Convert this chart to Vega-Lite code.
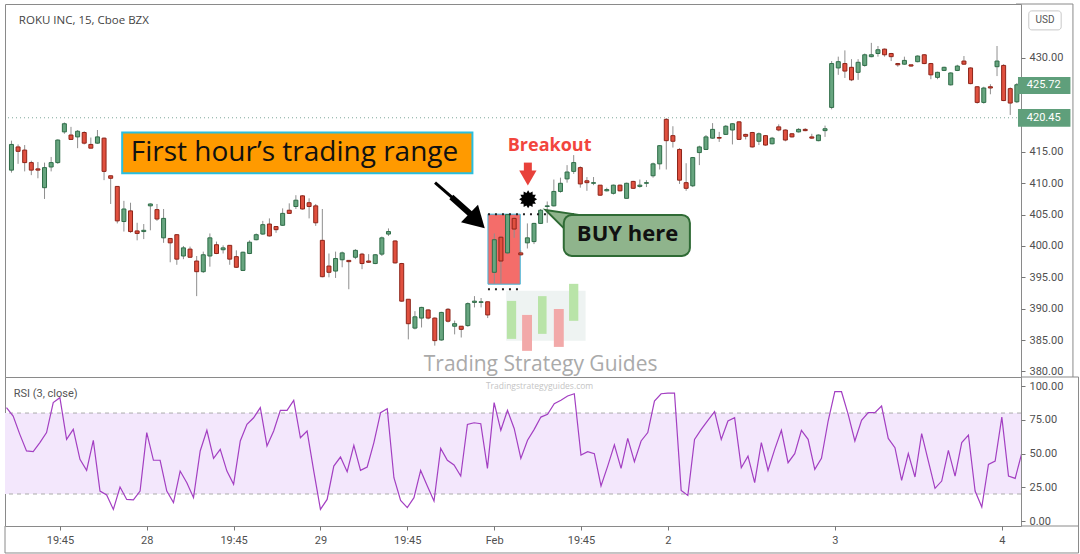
{
"$schema":"https://vega.github.io/schema/vega-lite/v6.json",
"background":"white",
"padding":{"left":4,"top":3,"right":0,"bottom":0},
"bounds":"flush",
"spacing":0,
"resolve":{"scale":{"x":"independent","y":"independent"}},
"config":{"view":{"stroke":"#8a8a8a","strokeWidth":1},"axis":{"grid":false,"labelFont":"Roboto","labelFontSize":11,"labelColor":"#505050","tickColor":"#777777","tickSize":4,"domain":false,"labelOverlap":false},"text":{"font":"Open Sans"}},
"datasets":{"k":[
{"i":0,"o":412.1,"h":416.8,"l":411.7,"c":416.2,"r":84},
{"i":1,"o":415.8,"h":416.2,"l":413.1,"c":415.1,"r":77.8},
{"i":2,"o":415.3,"h":416.1,"l":411.9,"c":413.3,"r":64.2},
{"i":3,"o":413.3,"h":413.6,"l":411.3,"c":412.1,"r":51.9},
{"i":4,"o":412.3,"h":413.4,"l":410.8,"c":412.1,"r":51.4},
{"i":5,"o":409.3,"h":413.3,"l":407.5,"c":412.5,"r":58.1},
{"i":6,"o":412.6,"h":414.2,"l":411.9,"c":413.3,"r":65.5},
{"i":7,"o":413.3,"h":417.0,"l":413.1,"c":416.9,"r":87.7},
{"i":8,"o":418.2,"h":419.7,"l":417.9,"c":419.5,"r":91.4},
{"i":9,"o":417.7,"h":419.0,"l":416.9,"c":417.0,"r":60.5},
{"i":10,"o":417.4,"h":418.5,"l":415.6,"c":418.3,"r":67.9},
{"i":11,"o":418.1,"h":418.3,"l":416.2,"c":416.4,"r":45.7},
{"i":12,"o":416.2,"h":417.3,"l":415.6,"c":415.6,"r":37.5},
{"i":13,"o":416.4,"h":418.5,"l":416.3,"c":417.4,"r":59.8},
{"i":14,"o":417.2,"h":417.3,"l":410.5,"c":411.9,"r":22.2},
{"i":15,"o":411.2,"h":411.2,"l":406.7,"c":410.8,"r":19.3},
{"i":16,"o":409.5,"h":409.5,"l":403.6,"c":404.0,"r":8.6},
{"i":17,"o":403.9,"h":407.2,"l":402.3,"c":405.9,"r":25.2},
{"i":18,"o":405.6,"h":406.9,"l":402.1,"c":402.3,"r":16.0},
{"i":19,"o":402.4,"h":403.7,"l":400.9,"c":402.0,"r":15.6},
{"i":20,"o":402.3,"h":403.5,"l":401.1,"c":402.5,"r":22.2},
{"i":21,"o":406.4,"h":406.8,"l":402.5,"c":406.7,"r":65.5},
{"i":22,"o":405.8,"h":406.7,"l":404.0,"c":404.3,"r":45.0},
{"i":23,"o":401.3,"h":405.9,"l":400.5,"c":404.4,"r":45.0},
{"i":24,"o":401.2,"h":401.2,"l":397.4,"c":400.5,"r":22.2},
{"i":25,"o":401.8,"h":401.9,"l":397.0,"c":397.9,"r":13.6},
{"i":26,"o":398.4,"h":400.0,"l":397.9,"c":399.7,"r":37.0},
{"i":27,"o":399.5,"h":399.9,"l":398.1,"c":398.2,"r":28.4},
{"i":28,"o":397.6,"h":398.4,"l":392.0,"c":395.9,"r":17.3},
{"i":29,"o":395.9,"h":399.1,"l":395.7,"c":398.6,"r":51.9},
{"i":30,"o":398.4,"h":402.0,"l":396.7,"c":401.3,"r":67.2},
{"i":31,"o":400.2,"h":400.7,"l":398.7,"c":398.8,"r":46.4},
{"i":32,"o":399.4,"h":400.1,"l":398.8,"c":399.7,"r":53.1},
{"i":33,"o":400.1,"h":400.1,"l":397.0,"c":397.9,"r":37.0},
{"i":34,"o":398.3,"h":399.3,"l":396.5,"c":396.6,"r":27.2},
{"i":35,"o":396.1,"h":399.1,"l":396.0,"c":399.0,"r":59.3},
{"i":36,"o":398.8,"h":400.9,"l":398.7,"c":400.6,"r":71.6},
{"i":37,"o":401.0,"h":402.0,"l":400.9,"c":401.8,"r":76.5},
{"i":38,"o":401.9,"h":404.0,"l":401.8,"c":403.4,"r":84.0},
{"i":39,"o":403.5,"h":404.4,"l":401.5,"c":401.6,"r":55.6},
{"i":40,"o":403.1,"h":403.1,"l":402.1,"c":402.6,"r":66.7},
{"i":41,"o":403.3,"h":406.0,"l":403.2,"c":405.2,"r":82.0},
{"i":42,"o":405.7,"h":406.8,"l":405.1,"c":405.2,"r":82.0},
{"i":43,"o":406.3,"h":408.1,"l":405.9,"c":407.3,"r":89.4},
{"i":44,"o":408.0,"h":408.1,"l":405.8,"c":405.9,"r":61.7},
{"i":45,"o":406.9,"h":407.6,"l":404.4,"c":406.3,"r":66.7},
{"i":46,"o":406.4,"h":406.7,"l":403.2,"c":403.7,"r":37.0},
{"i":47,"o":400.9,"h":405.9,"l":395.0,"c":395.1,"r":8.6},
{"i":48,"o":396.8,"h":398.8,"l":395.0,"c":395.8,"r":16.0},
{"i":49,"o":396.0,"h":399.1,"l":394.9,"c":398.0,"r":40.7},
{"i":50,"o":397.8,"h":399.1,"l":396.6,"c":398.9,"r":47.4},
{"i":51,"o":397.7,"h":397.7,"l":393.1,"c":397.5,"r":36.5},
{"i":52,"o":398.2,"h":399.5,"l":397.9,"c":399.3,"r":56.0},
{"i":53,"o":398.7,"h":398.9,"l":396.3,"c":397.2,"r":37.5},
{"i":54,"o":397.6,"h":398.7,"l":397.3,"c":397.4,"r":40.0},
{"i":55,"o":397.2,"h":398.7,"l":397.1,"c":398.6,"r":58.1},
{"i":56,"o":398.7,"h":401.5,"l":398.4,"c":401.3,"r":80.3},
{"i":57,"o":401.9,"h":402.8,"l":401.6,"c":402.3,"r":83.2},
{"i":58,"o":400.8,"h":400.9,"l":397.2,"c":397.3,"r":32.1},
{"i":59,"o":397.2,"h":397.3,"l":391.1,"c":391.2,"r":15.3},
{"i":60,"o":391.5,"h":391.5,"l":385.1,"c":387.6,"r":9.9},
{"i":61,"o":386.9,"h":389.6,"l":386.7,"c":388.7,"r":17.3},
{"i":62,"o":388.5,"h":390.3,"l":387.0,"c":390.2,"r":37.5},
{"i":63,"o":389.8,"h":389.9,"l":388.3,"c":388.5,"r":26.0},
{"i":64,"o":388.5,"h":388.6,"l":384.1,"c":384.9,"r":14.8},
{"i":65,"o":385.0,"h":389.5,"l":384.9,"c":389.4,"r":53.8},
{"i":66,"o":389.9,"h":390.1,"l":387.8,"c":388.0,"r":45.0},
{"i":67,"o":387.2,"h":388.1,"l":385.9,"c":387.6,"r":41.5},
{"i":68,"o":387.2,"h":387.2,"l":385.4,"c":386.7,"r":33.3},
{"i":69,"o":387.3,"h":391.0,"l":387.1,"c":390.8,"r":71.6},
{"i":70,"o":391.0,"h":392.0,"l":390.2,"c":391.2,"r":72.8},
{"i":71,"o":391.0,"h":391.7,"l":390.2,"c":391.1,"r":72.1},
{"i":72,"o":391.1,"h":391.1,"l":388.5,"c":389.0,"r":39.0},
{"i":73,"o":395.8,"h":402.0,"l":394.0,"c":401.0,"r":87.7},
{"i":74,"o":401.4,"h":401.6,"l":394.0,"c":397.6,"r":67.2},
{"i":75,"o":398.9,"h":405.1,"l":398.7,"c":405.0,"r":82.0},
{"i":76,"o":404.4,"h":404.6,"l":401.3,"c":402.7,"r":68.6},
{"i":77,"o":398.9,"h":399.3,"l":398.4,"c":398.6,"r":46.4},
{"i":78,"o":400.5,"h":403.6,"l":399.6,"c":401.3,"r":59.8},
{"i":79,"o":400.7,"h":403.7,"l":400.3,"c":403.6,"r":67.9},
{"i":80,"o":403.6,"h":405.9,"l":403.5,"c":405.7,"r":77.0},
{"i":81,"o":406.3,"h":407.1,"l":403.7,"c":406.4,"r":79.0},
{"i":82,"o":406.4,"h":410.6,"l":406.3,"c":408.7,"r":86.9},
{"i":83,"o":408.7,"h":410.9,"l":408.5,"c":410.0,"r":89.4},
{"i":84,"o":410.7,"h":412.9,"l":410.1,"c":411.8,"r":92.6},
{"i":85,"o":411.9,"h":414.5,"l":411.5,"c":413.3,"r":94.3},
{"i":86,"o":412.5,"h":412.7,"l":409.3,"c":409.9,"r":48.9},
{"i":87,"o":410.4,"h":411.0,"l":408.8,"c":410.1,"r":51.4},
{"i":88,"o":410.0,"h":411.0,"l":409.7,"c":410.1,"r":49.9},
{"i":89,"o":409.7,"h":409.7,"l":408.0,"c":408.1,"r":26.0},
{"i":90,"o":408.8,"h":409.3,"l":408.7,"c":409.0,"r":40.7},
{"i":91,"o":408.4,"h":409.8,"l":408.2,"c":409.7,"r":56.4},
{"i":92,"o":409.7,"h":409.8,"l":408.7,"c":408.8,"r":39.0},
{"i":93,"o":407.6,"h":410.1,"l":407.6,"c":410.0,"r":61.2},
{"i":94,"o":410.3,"h":410.4,"l":409.1,"c":409.2,"r":44.0},
{"i":95,"o":409.5,"h":410.6,"l":409.3,"c":409.7,"r":59.3},
{"i":96,"o":410.0,"h":410.5,"l":409.4,"c":410.1,"r":65.5},
{"i":97,"o":411.2,"h":413.3,"l":410.9,"c":413.1,"r":88.9},
{"i":98,"o":413.1,"h":416.1,"l":412.2,"c":416.0,"r":94.3},
{"i":99,"o":420.2,"h":420.4,"l":412.2,"c":416.8,"r":94.8},
{"i":100,"o":417.6,"h":419.1,"l":415.7,"c":416.7,"r":94.8},
{"i":101,"o":415.4,"h":415.6,"l":409.9,"c":410.5,"r":22.7},
{"i":102,"o":410.1,"h":413.2,"l":408.8,"c":409.2,"r":19.0},
{"i":103,"o":409.6,"h":414.2,"l":409.4,"c":414.1,"r":60.5},
{"i":104,"o":414.9,"h":416.0,"l":412.9,"c":415.8,"r":67.9},
{"i":105,"o":415.4,"h":417.7,"l":415.3,"c":417.4,"r":74.6},
{"i":106,"o":417.2,"h":419.6,"l":417.1,"c":418.6,"r":81.0},
{"i":107,"o":417.3,"h":418.2,"l":416.6,"c":417.2,"r":60.5},
{"i":108,"o":417.8,"h":419.3,"l":417.7,"c":419.1,"r":74.1},
{"i":109,"o":418.5,"h":419.6,"l":416.2,"c":419.5,"r":76.5},
{"i":110,"o":419.8,"h":419.9,"l":416.9,"c":417.0,"r":39.5},
{"i":111,"o":417.8,"h":417.9,"l":417.0,"c":417.5,"r":48.1},
{"i":112,"o":418.1,"h":418.2,"l":415.7,"c":415.8,"r":28.4},
{"i":113,"o":416.7,"h":418.1,"l":416.1,"c":417.9,"r":58.1},
{"i":114,"o":417.6,"h":417.7,"l":416.0,"c":416.1,"r":37.5},
{"i":115,"o":416.3,"h":417.4,"l":416.2,"c":417.2,"r":53.1},
{"i":116,"o":419.0,"h":419.4,"l":418.3,"c":418.5,"r":67.2},
{"i":117,"o":418.5,"h":418.6,"l":416.7,"c":416.9,"r":43.2},
{"i":118,"o":417.9,"h":418.0,"l":417.3,"c":417.4,"r":49.9},
{"i":119,"o":418.2,"h":418.8,"l":418.1,"c":418.6,"r":67.2},
{"i":120,"o":418.6,"h":418.8,"l":418.3,"c":418.4,"r":60.5},
{"i":121,"o":417.4,"h":417.9,"l":417.1,"c":417.2,"r":38.3},
{"i":122,"o":416.8,"h":417.8,"l":416.7,"c":417.7,"r":46.4},
{"i":123,"o":418.4,"h":419.2,"l":417.4,"c":418.7,"r":74.1},
{"i":124,"o":422.1,"h":429.5,"l":421.8,"c":429.1,"r":95.8},
{"i":125,"o":428.4,"h":430.2,"l":427.3,"c":429.4,"r":95.8},
{"i":126,"o":429.1,"h":431.2,"l":426.8,"c":427.9,"r":79.0},
{"i":127,"o":428.5,"h":429.8,"l":426.3,"c":426.5,"r":59.3},
{"i":128,"o":427.7,"h":429.8,"l":426.5,"c":429.3,"r":74.6},
{"i":129,"o":428.8,"h":430.7,"l":428.6,"c":430.5,"r":80.3},
{"i":130,"o":430.2,"h":432.4,"l":430.1,"c":430.5,"r":80.3},
{"i":131,"o":430.7,"h":431.9,"l":430.2,"c":431.3,"r":85.2},
{"i":132,"o":431.4,"h":431.5,"l":430.2,"c":430.5,"r":61.2},
{"i":133,"o":430.7,"h":430.8,"l":429.5,"c":430.2,"r":54.3},
{"i":134,"o":429.1,"h":429.2,"l":428.6,"c":428.9,"r":30.1},
{"i":135,"o":429.0,"h":430.2,"l":428.9,"c":429.6,"r":49.9},
{"i":136,"o":428.9,"h":428.9,"l":428.6,"c":428.7,"r":32.6},
{"i":137,"o":429.4,"h":430.4,"l":429.3,"c":430.3,"r":64.7},
{"i":138,"o":430.5,"h":430.6,"l":429.0,"c":429.1,"r":44.4},
{"i":139,"o":429.1,"h":429.2,"l":426.6,"c":427.3,"r":24.2},
{"i":140,"o":426.9,"h":427.8,"l":426.6,"c":427.7,"r":29.6},
{"i":141,"o":428.0,"h":428.6,"l":427.9,"c":428.5,"r":52.3},
{"i":142,"o":425.7,"h":427.7,"l":425.6,"c":427.6,"r":33.3},
{"i":143,"o":428.0,"h":428.9,"l":427.9,"c":428.7,"r":58.1},
{"i":144,"o":429.5,"h":430.3,"l":428.9,"c":429.0,"r":63.7},
{"i":145,"o":428.4,"h":428.5,"l":425.8,"c":425.9,"r":22.2},
{"i":146,"o":425.4,"h":425.5,"l":422.7,"c":422.9,"r":10.4},
{"i":147,"o":422.9,"h":425.4,"l":422.7,"c":425.2,"r":41.9},
{"i":148,"o":425.4,"h":425.8,"l":424.2,"c":425.2,"r":44.4},
{"i":149,"o":428.6,"h":431.9,"l":427.1,"c":429.5,"r":77.0},
{"i":150,"o":428.8,"h":429.0,"l":423.1,"c":423.2,"r":33.3},
{"i":151,"o":425.1,"h":425.3,"l":420.9,"c":422.8,"r":31.6},
{"i":152,"o":423.0,"h":426.0,"l":422.8,"c":425.72,"r":50.6}
]},
"vconcat":[
{"width":1016,"height":373,"layer":[
{"data":{"values":[{}]},"mark":{"type":"rect","color":"#eef3f2"},"encoding":{"x":{"datum":74.8,"type":"quantitative","axis":null,"scale":{"domain":[-0.22,151.87],"nice":false,"zero":false}},"x2":{"datum":86.8},"y":{"datum":392.84,"type":"quantitative","scale":{"domain":[379.1,438.6],"nice":false,"zero":false},"axis":{"orient":"right","values":[380,385,390,395,400,405,410,415,430],"tickCount":20,"format":".2f","title":null,"labelPadding":4,"labelOverlap":false}},"y2":{"datum":384.87}}},
{"data":{"values":[{}]},"mark":{"type":"rect","color":"#b9e4a8"},"encoding":{"x":{"datum":74.9,"type":"quantitative","axis":null},"x2":{"datum":76.3},"y":{"datum":391.24,"type":"quantitative"},"y2":{"datum":385.18}}},
{"data":{"values":[{}]},"mark":{"type":"rect","color":"#b9e4a8"},"encoding":{"x":{"datum":79.6,"type":"quantitative","axis":null},"x2":{"datum":80.9},"y":{"datum":392.0,"type":"quantitative"},"y2":{"datum":385.98}}},
{"data":{"values":[{}]},"mark":{"type":"rect","color":"#b9e4a8"},"encoding":{"x":{"datum":84.3,"type":"quantitative","axis":null},"x2":{"datum":85.7},"y":{"datum":393.96,"type":"quantitative"},"y2":{"datum":388.06}}},
{"data":{"values":[{}]},"mark":{"type":"rect","color":"#f2a9a9"},"encoding":{"x":{"datum":77.2,"type":"quantitative","axis":null},"x2":{"datum":78.7},"y":{"datum":389.0,"type":"quantitative"},"y2":{"datum":383.27}}},
{"data":{"values":[{}]},"mark":{"type":"rect","color":"#f2a9a9"},"encoding":{"x":{"datum":82.0,"type":"quantitative","axis":null},"x2":{"datum":83.5},"y":{"datum":389.95,"type":"quantitative"},"y2":{"datum":383.9}}},
{"data":{"values":[{}]},"mark":{"type":"text","text":"Trading Strategy Guides","fontSize":21,"color":"#aaaaaa","align":"center","baseline":"middle"},"encoding":{"x":{"datum":80.0,"type":"quantitative","axis":null},"y":{"datum":381.04,"type":"quantitative"}}},
{"data":{"values":[{}]},"mark":{"type":"rule","color":"#7fa89a","strokeDash":[1,3],"strokeWidth":1},"encoding":{"y":{"datum":420.45,"type":"quantitative"}}},
{"data":{"values":[{}]},"mark":{"type":"rect","fill":"#f46d6a","stroke":"#3fb6d9","strokeWidth":1},"encoding":{"x":{"datum":72.04,"type":"quantitative","axis":null},"x2":{"datum":76.92},"y":{"datum":405.07,"type":"quantitative"},"y2":{"datum":393.91}}},
{"data":{"name":"k"},"layer":[
{"mark":{"type":"rule","color":"#8f8f8f","strokeWidth":1,"clip":true},"encoding":{"x":{"field":"i","type":"quantitative","axis":null},"y":{"field":"l","type":"quantitative","title":null},"y2":{"field":"h"}}},
{"mark":{"type":"bar","size":4,"strokeWidth":1,"clip":true},"encoding":{"x":{"field":"i","type":"quantitative","axis":null},"y":{"field":"o","type":"quantitative","title":null},"y2":{"field":"c"},"fill":{"condition":{"test":"datum.c>=datum.o","value":"#67a57f"},"value":"#e0503f"},"stroke":{"condition":{"test":"datum.c>=datum.o","value":"#2f6d48"},"value":"#8e2419"}}}
]},
{"data":{"values":[{}]},"mark":{"type":"rule","color":"#222222","strokeWidth":2,"strokeDash":[2,5]},"encoding":{"x":{"datum":72.04,"type":"quantitative","axis":null},"x2":{"datum":85.7},"y":{"datum":405.07,"type":"quantitative"}}},
{"data":{"values":[{}]},"mark":{"type":"rule","color":"#222222","strokeWidth":2,"strokeDash":[2,5]},"encoding":{"x":{"datum":72.04,"type":"quantitative","axis":null},"x2":{"datum":76.92},"y":{"datum":393.11,"type":"quantitative"}}},
{"data":{"values":[{}]},"mark":{"type":"rect","fill":"#ff9a00","stroke":"#29bfe0","strokeWidth":2},"encoding":{"x":{"datum":16.74,"type":"quantitative","axis":null},"x2":{"datum":69.69},"y":{"datum":418.09,"type":"quantitative"},"y2":{"datum":411.61}}},
{"data":{"values":[{}]},"mark":{"type":"text","text":"First hour’s trading range","fontSize":28,"color":"#111111","align":"left","baseline":"middle"},"encoding":{"x":{"datum":18.04,"type":"quantitative","axis":null},"y":{"datum":414.9,"type":"quantitative"}}},
{"data":{"values":[{}]},"mark":{"type":"rule","color":"#000000","strokeWidth":3},"encoding":{"x":{"datum":64.04,"type":"quantitative","axis":null},"x2":{"datum":67.0},"y":{"datum":410.11,"type":"quantitative"},"y2":{"datum":407.4}}},
{"data":{"values":[{}]},"mark":{"type":"rule","color":"#000000","strokeWidth":6},"encoding":{"x":{"datum":66.5,"type":"quantitative","axis":null},"x2":{"datum":69.6},"y":{"datum":407.8,"type":"quantitative"},"y2":{"datum":404.9}}},
{"data":{"values":[{}]},"mark":{"type":"point","shape":"triangle-up","angle":134,"size":600,"filled":true,"color":"#000000","opacity":1},"encoding":{"x":{"datum":70.4,"type":"quantitative","axis":null},"y":{"datum":404.0,"type":"quantitative"}}},
{"data":{"values":[{}]},"mark":{"type":"text","text":"Breakout","fontSize":18,"fontWeight":"bold","color":"#f2453d","align":"center","baseline":"middle"},"encoding":{"x":{"datum":81.36,"type":"quantitative","axis":null},"y":{"datum":415.96,"type":"quantitative"}}},
{"data":{"values":[{}]},"mark":{"type":"rule","color":"#e8413a","strokeWidth":8},"encoding":{"x":{"datum":78.07,"type":"quantitative","axis":null},"y":{"datum":413.3,"type":"quantitative"},"y2":{"datum":411.4}}},
{"data":{"values":[{}]},"mark":{"type":"point","shape":"triangle-down","size":300,"filled":true,"color":"#e8413a","opacity":1},"encoding":{"x":{"datum":78.07,"type":"quantitative","axis":null},"y":{"datum":410.86,"type":"quantitative"}}},
{"data":{"values":[{}]},"mark":{"type":"point","shape":"M1,0L0.695,0.186L0.866,0.5L0.509,0.509L0.5,0.866L0.186,0.695L0,1L-0.186,0.695L-0.5,0.866L-0.509,0.509L-0.866,0.5L-0.695,0.186L-1,0L-0.695,-0.186L-0.866,-0.5L-0.509,-0.509L-0.5,-0.866L-0.186,-0.695L0,-1L0.186,-0.695L0.5,-0.866L0.509,-0.509L0.866,-0.5L0.695,-0.186Z","size":320,"filled":true,"color":"#000000","opacity":1},"encoding":{"x":{"datum":78.11,"type":"quantitative","axis":null},"y":{"datum":407.46,"type":"quantitative"}}},
{"data":{"values":[{}]},"mark":{"type":"point","shape":"M-1,-0.47L0.94,-0.18L0.12,0.65Z","size":1156,"filled":true,"fill":"#8fb48c","stroke":"#2f6b35","strokeWidth":2,"opacity":1},"encoding":{"x":{"datum":83.31,"type":"quantitative","axis":null},"y":{"datum":404.48,"type":"quantitative"}}},
{"data":{"values":[{}]},"mark":{"type":"rect","fill":"#8fb48c","stroke":"#2f6b35","strokeWidth":2,"cornerRadius":8},"encoding":{"x":{"datum":83.5,"type":"quantitative","axis":null},"x2":{"datum":102.57},"y":{"datum":404.96,"type":"quantitative"},"y2":{"datum":398.42}}},
{"data":{"values":[{}]},"mark":{"type":"text","text":"BUY here","fontSize":22,"fontWeight":"bold","color":"#111111","align":"center","baseline":"middle"},"encoding":{"x":{"datum":93.14,"type":"quantitative","axis":null},"y":{"datum":401.88,"type":"quantitative"}}},
{"data":{"values":[{}]},"mark":{"type":"text","text":"ROKU INC, 15, Cboe BZX","fontSize":11.5,"color":"#444444","align":"left","baseline":"middle"},"encoding":{"x":{"datum":1.12,"type":"quantitative","axis":null},"y":{"datum":435.9,"type":"quantitative"}}},
{"data":{"values":[{}]},"mark":{"type":"rect","color":"#5f9f7b","clip":false},"encoding":{"x":{"datum":152.17,"type":"quantitative","axis":null},"x2":{"datum":160.1},"y":{"datum":426.97,"type":"quantitative"},"y2":{"datum":424.26}}},
{"data":{"values":[{}]},"mark":{"type":"text","text":"425.72","font":"Roboto","fontSize":11,"color":"#ffffff","align":"center","baseline":"middle","clip":false},"encoding":{"x":{"datum":156.06,"type":"quantitative","axis":null},"y":{"datum":425.62,"type":"quantitative"}}},
{"data":{"values":[{}]},"mark":{"type":"rect","color":"#5f9f7b","clip":false},"encoding":{"x":{"datum":152.17,"type":"quantitative","axis":null},"x2":{"datum":160.1},"y":{"datum":421.87,"type":"quantitative"},"y2":{"datum":419.0}}},
{"data":{"values":[{}]},"mark":{"type":"text","text":"420.45","font":"Roboto","fontSize":11,"color":"#ffffff","align":"center","baseline":"middle","clip":false},"encoding":{"x":{"datum":156.06,"type":"quantitative","axis":null},"y":{"datum":420.45,"type":"quantitative"}}},
{"data":{"values":[{}]},"mark":{"type":"rect","fill":"#ffffff","stroke":"#c8c8c8","strokeWidth":1,"cornerRadius":3,"clip":false},"encoding":{"x":{"datum":153.8,"type":"quantitative","axis":null},"x2":{"datum":158.7},"y":{"datum":437.5,"type":"quantitative"},"y2":{"datum":434.47}}},
{"data":{"values":[{}]},"mark":{"type":"text","text":"USD","font":"Roboto","fontSize":10,"color":"#555555","align":"center","baseline":"middle","clip":false},"encoding":{"x":{"datum":156.25,"type":"quantitative","axis":null},"y":{"datum":435.98,"type":"quantitative"}}},
{"data":{"values":[{}]},"mark":{"type":"rule","color":"#8a8a8a","strokeWidth":1,"clip":false},"encoding":{"x":{"datum":160.48,"type":"quantitative","axis":null},"y":{"datum":379.1,"type":"quantitative"},"y2":{"datum":438.6}}},
{"data":{"values":[{}]},"mark":{"type":"rule","color":"#8a8a8a","strokeWidth":1,"clip":false},"encoding":{"x":{"datum":151.87,"type":"quantitative","axis":null},"x2":{"datum":160.48},"y":{"datum":438.6,"type":"quantitative"}}}
]},
{"width":1016,"height":149,"layer":[
{"data":{"values":[{}]},"mark":{"type":"rect","color":"#f3e7fc"},"encoding":{"y":{"datum":80,"type":"quantitative","scale":{"domain":[-3.7,106.7],"nice":false,"zero":false},"axis":{"orient":"right","values":[0,25,50,75,100],"tickCount":20,"format":".2f","title":null,"labelPadding":4,"labelOverlap":false}},"y2":{"datum":20}}},
{"data":{"values":[{}]},"mark":{"type":"rule","color":"#ababab","strokeDash":[4,4],"strokeWidth":1},"encoding":{"y":{"datum":80,"type":"quantitative"}}},
{"data":{"values":[{}]},"mark":{"type":"rule","color":"#ababab","strokeDash":[4,4],"strokeWidth":1},"encoding":{"y":{"datum":20,"type":"quantitative"}}},
{"data":{"name":"k"},"mark":{"type":"line","color":"#a33fc2","strokeWidth":1.2,"clip":true},"encoding":{"x":{"field":"i","type":"quantitative","scale":{"domain":[-0.22,151.87],"nice":false,"zero":false},"axis":{"values":[8,21,34,47,60,73,86,99,124,149],"tickCount":30,"labelExpr":"datum.value==21?'28':datum.value==47?'29':datum.value==73?'Feb':datum.value==99?'2':datum.value==124?'3':datum.value==149?'4':'19:45'","title":null,"labelPadding":4,"labelFlush":false,"labelOverlap":false}},"y":{"field":"r","type":"quantitative","title":null}}},
{"data":{"values":[{}]},"mark":{"type":"text","text":"RSI (3, close)","font":"Roboto","fontSize":11,"color":"#555555","align":"left","baseline":"middle"},"encoding":{"x":{"datum":1.08,"type":"quantitative"},"y":{"datum":94.1,"type":"quantitative"}}},
{"data":{"values":[{}]},"mark":{"type":"text","text":"Tradingstrategyguides.com","fontSize":8.5,"color":"#c4c4c4","align":"center","baseline":"middle"},"encoding":{"x":{"datum":79.8,"type":"quantitative"},"y":{"datum":100,"type":"quantitative"}}},
{"data":{"values":[{}]},"mark":{"type":"rule","color":"#8a8a8a","strokeWidth":1,"clip":false},"encoding":{"x":{"datum":151.87,"type":"quantitative"},"x2":{"datum":160.48},"y":{"datum":106.7,"type":"quantitative"}}},
{"data":{"values":[{}]},"mark":{"type":"rule","color":"#8a8a8a","strokeWidth":1,"clip":false},"encoding":{"x":{"datum":151.87,"type":"quantitative"},"x2":{"datum":160.48},"y":{"datum":-3.7,"type":"quantitative"}}},
{"data":{"values":[{}]},"mark":{"type":"rule","color":"#8a8a8a","strokeWidth":1,"clip":false},"encoding":{"x":{"datum":-0.22,"type":"quantitative"},"x2":{"datum":160.48},"y":{"datum":-23.7,"type":"quantitative"}}},
{"data":{"values":[{}]},"mark":{"type":"rule","color":"#8a8a8a","strokeWidth":1,"clip":false},"encoding":{"x":{"datum":160.48,"type":"quantitative"},"y":{"datum":-23.7,"type":"quantitative"},"y2":{"datum":106.7}}},
{"data":{"values":[{}]},"mark":{"type":"rule","color":"#8a8a8a","strokeWidth":1,"clip":false},"encoding":{"x":{"datum":-0.22,"type":"quantitative"},"y":{"datum":-23.7,"type":"quantitative"},"y2":{"datum":-3.7}}}
]}
]
}
